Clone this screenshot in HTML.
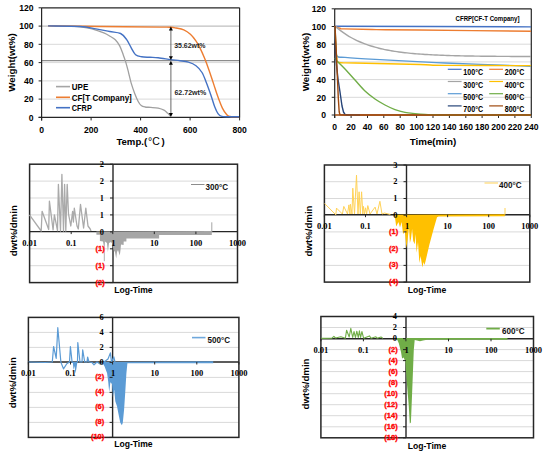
<!DOCTYPE html><html><head><meta charset="utf-8"><style>html,body{margin:0;padding:0;background:#fff;width:550px;height:454px;overflow:hidden}svg{display:block}</style></head><body>
<svg width="550" height="454" viewBox="0 0 550 454">
<rect width="550" height="454" fill="#fff"/>
<line x1="41.6" y1="99.1" x2="239.6" y2="99.1" stroke="#d9d9d9" stroke-width="1"/>
<line x1="41.6" y1="80.9" x2="239.6" y2="80.9" stroke="#d9d9d9" stroke-width="1"/>
<line x1="41.6" y1="62.6" x2="239.6" y2="62.6" stroke="#d9d9d9" stroke-width="1"/>
<line x1="41.6" y1="44.3" x2="239.6" y2="44.3" stroke="#d9d9d9" stroke-width="1"/>
<line x1="41.6" y1="26.1" x2="239.6" y2="26.1" stroke="#bfbfbf" stroke-width="1.2"/>
<line x1="41.6" y1="60.7" x2="239.6" y2="60.7" stroke="#8c8c8c" stroke-width="1.2"/>
<line x1="41.6" y1="7.8" x2="239.6" y2="7.8" stroke="#262626" stroke-width="1.2"/>
<line x1="239.6" y1="7.8" x2="239.6" y2="117.4" stroke="#262626" stroke-width="1.2"/>
<line x1="41.6" y1="7.8" x2="41.6" y2="120.4" stroke="#262626" stroke-width="1.2"/>
<line x1="38.6" y1="117.4" x2="239.6" y2="117.4" stroke="#262626" stroke-width="1.2"/>
<line x1="38.6" y1="117.4" x2="41.6" y2="117.4" stroke="#262626" stroke-width="1"/>
<text x="33.6" y="117.7" font-size="8.6" text-anchor="end" font-weight="bold" fill="#000" font-family='"Liberation Sans", sans-serif' dominant-baseline="central" >0</text>
<line x1="38.6" y1="99.1" x2="41.6" y2="99.1" stroke="#262626" stroke-width="1"/>
<text x="33.6" y="99.4" font-size="8.6" text-anchor="end" font-weight="bold" fill="#000" font-family='"Liberation Sans", sans-serif' dominant-baseline="central" >20</text>
<line x1="38.6" y1="80.9" x2="41.6" y2="80.9" stroke="#262626" stroke-width="1"/>
<text x="33.6" y="81.2" font-size="8.6" text-anchor="end" font-weight="bold" fill="#000" font-family='"Liberation Sans", sans-serif' dominant-baseline="central" >40</text>
<line x1="38.6" y1="62.6" x2="41.6" y2="62.6" stroke="#262626" stroke-width="1"/>
<text x="33.6" y="62.9" font-size="8.6" text-anchor="end" font-weight="bold" fill="#000" font-family='"Liberation Sans", sans-serif' dominant-baseline="central" >60</text>
<line x1="38.6" y1="44.3" x2="41.6" y2="44.3" stroke="#262626" stroke-width="1"/>
<text x="33.6" y="44.6" font-size="8.6" text-anchor="end" font-weight="bold" fill="#000" font-family='"Liberation Sans", sans-serif' dominant-baseline="central" >80</text>
<line x1="38.6" y1="26.1" x2="41.6" y2="26.1" stroke="#262626" stroke-width="1"/>
<text x="33.6" y="26.4" font-size="8.6" text-anchor="end" font-weight="bold" fill="#000" font-family='"Liberation Sans", sans-serif' dominant-baseline="central" >100</text>
<line x1="38.6" y1="7.8" x2="41.6" y2="7.8" stroke="#262626" stroke-width="1"/>
<text x="33.6" y="8.1" font-size="8.6" text-anchor="end" font-weight="bold" fill="#000" font-family='"Liberation Sans", sans-serif' dominant-baseline="central" >120</text>
<line x1="41.6" y1="117.4" x2="41.6" y2="120.4" stroke="#262626" stroke-width="1"/>
<text x="41.6" y="130.0" font-size="8.6" text-anchor="middle" font-weight="bold" fill="#000" font-family='"Liberation Sans", sans-serif' dominant-baseline="central" >0</text>
<line x1="91.1" y1="117.4" x2="91.1" y2="120.4" stroke="#262626" stroke-width="1"/>
<text x="91.1" y="130.0" font-size="8.6" text-anchor="middle" font-weight="bold" fill="#000" font-family='"Liberation Sans", sans-serif' dominant-baseline="central" >200</text>
<line x1="140.6" y1="117.4" x2="140.6" y2="120.4" stroke="#262626" stroke-width="1"/>
<text x="140.6" y="130.0" font-size="8.6" text-anchor="middle" font-weight="bold" fill="#000" font-family='"Liberation Sans", sans-serif' dominant-baseline="central" >400</text>
<line x1="190.1" y1="117.4" x2="190.1" y2="120.4" stroke="#262626" stroke-width="1"/>
<text x="190.1" y="130.0" font-size="8.6" text-anchor="middle" font-weight="bold" fill="#000" font-family='"Liberation Sans", sans-serif' dominant-baseline="central" >600</text>
<line x1="239.6" y1="117.4" x2="239.6" y2="120.4" stroke="#262626" stroke-width="1"/>
<text x="239.6" y="130.0" font-size="8.6" text-anchor="middle" font-weight="bold" fill="#000" font-family='"Liberation Sans", sans-serif' dominant-baseline="central" >800</text>
<text x="140.5" y="141.3" font-size="9.6" text-anchor="middle" font-weight="bold" fill="#000" font-family='"Liberation Sans", sans-serif' dominant-baseline="central" >Temp.(<tspan font-size="10.5" font-weight="normal" dx="1">°C</tspan><tspan dx="1.5">)</tspan></text>
<text x="11.4" y="62.5" font-size="9.8" text-anchor="middle" font-weight="bold" fill="#000" font-family='"Liberation Sans", sans-serif' dominant-baseline="central" transform="rotate(-90 11.4 62.5)">Weight(wt%)</text>
<path d="M48.10,25.90 C52.08,25.98 66.68,26.23 72.00,26.40 C77.32,26.57 76.68,26.48 80.00,26.90 C83.32,27.32 87.93,27.90 91.90,28.90 C95.87,29.90 100.78,31.68 103.80,32.90 C106.82,34.12 108.08,35.07 110.00,36.20 C111.92,37.33 113.68,38.08 115.30,39.70 C116.92,41.32 118.38,43.40 119.70,45.90 C121.02,48.40 122.17,51.92 123.20,54.70 C124.23,57.48 125.02,59.67 125.90,62.60 C126.78,65.53 127.63,68.92 128.50,72.30 C129.37,75.68 130.07,79.38 131.10,82.90 C132.13,86.42 133.52,90.30 134.70,93.40 C135.88,96.50 137.12,99.47 138.20,101.50 C139.28,103.53 140.07,104.68 141.20,105.60 C142.33,106.52 143.38,106.70 145.00,107.00 C146.62,107.30 148.70,107.20 150.90,107.40 C153.10,107.60 156.02,107.73 158.20,108.20 C160.38,108.67 162.43,109.38 164.00,110.20 C165.57,111.02 166.52,112.13 167.60,113.10 C168.68,114.07 170.02,115.52 170.50,116.00" fill="none" stroke="#a0a0a0" stroke-width="1.3" stroke-linejoin="round"/>
<path d="M48.10,25.90 C56.75,26.00 81.35,26.30 100.00,26.50 C118.65,26.70 148.17,26.97 160.00,27.10 C171.83,27.23 168.33,27.15 171.00,27.30 C173.67,27.45 173.87,27.57 176.00,28.00 C178.13,28.43 181.40,28.85 183.80,29.90 C186.20,30.95 188.38,32.47 190.40,34.30 C192.42,36.13 194.25,38.52 195.90,40.90 C197.55,43.28 198.83,45.65 200.30,48.60 C201.77,51.55 203.22,54.92 204.70,58.60 C206.18,62.28 207.72,66.48 209.20,70.70 C210.68,74.92 212.13,79.50 213.60,83.90 C215.07,88.30 216.53,93.07 218.00,97.10 C219.47,101.13 220.93,105.15 222.40,108.10 C223.87,111.05 225.52,113.40 226.80,114.80 C228.08,116.20 228.73,116.18 230.10,116.50 C231.47,116.82 233.52,116.67 235.00,116.70 C236.48,116.73 238.33,116.70 239.00,116.70" fill="none" stroke="#ed7d31" stroke-width="1.4" stroke-linejoin="round"/>
<path d="M48.10,25.90 C53.42,26.00 72.03,26.00 80.00,26.50 C87.97,27.00 90.95,28.07 95.90,28.90 C100.85,29.73 105.58,30.73 109.70,31.50 C113.82,32.27 117.77,32.13 120.60,33.50 C123.43,34.87 124.95,37.35 126.70,39.70 C128.45,42.05 129.62,45.10 131.10,47.60 C132.58,50.10 133.83,53.17 135.60,54.70 C137.37,56.23 139.30,56.37 141.70,56.80 C144.10,57.23 147.25,57.13 150.00,57.30 C152.75,57.47 154.72,57.42 158.20,57.80 C161.68,58.18 167.27,59.12 170.90,59.60 C174.53,60.08 177.07,60.27 180.00,60.70 C182.93,61.13 185.83,61.35 188.50,62.20 C191.17,63.05 193.75,64.08 196.00,65.80 C198.25,67.52 200.25,69.63 202.00,72.50 C203.75,75.37 205.00,79.17 206.50,83.00 C208.00,86.83 209.65,91.58 211.00,95.50 C212.35,99.42 213.43,103.48 214.60,106.50 C215.77,109.52 216.80,111.95 218.00,113.60 C219.20,115.25 219.80,115.88 221.80,116.40 C223.80,116.92 227.13,116.65 230.00,116.70 C232.87,116.75 237.50,116.70 239.00,116.70" fill="none" stroke="#4472c4" stroke-width="1.4" stroke-linejoin="round"/>
<line x1="170.9" y1="29.0" x2="170.9" y2="58.0" stroke="#404040" stroke-width="0.8"/>
<line x1="170.9" y1="63.0" x2="170.9" y2="114.5" stroke="#404040" stroke-width="0.8"/>
<polygon points="170.9,26.6 168.9,30.5 172.9,30.5" fill="#000"/>
<polygon points="170.9,60.1 168.9,56.2 172.9,56.2" fill="#000"/>
<polygon points="170.9,60.8 168.9,64.7 172.9,64.7" fill="#000"/>
<polygon points="170.9,117 168.9,113.1 172.9,113.1" fill="#000"/>
<text x="174.2" y="45.4" font-size="7.4" text-anchor="start" font-weight="bold" fill="#262626" font-family='"Liberation Sans", sans-serif' dominant-baseline="central" textLength="31.3" lengthAdjust="spacingAndGlyphs">35.62wt%</text>
<text x="174.4" y="92.8" font-size="7.4" text-anchor="start" font-weight="bold" fill="#262626" font-family='"Liberation Sans", sans-serif' dominant-baseline="central" textLength="31.8" lengthAdjust="spacingAndGlyphs">62.72wt%</text>
<line x1="56.0" y1="86.6" x2="70.0" y2="86.6" stroke="#a5a5a5" stroke-width="1.6"/>
<text x="71.8" y="86.9" font-size="8.8" text-anchor="start" font-weight="bold" fill="#000" font-family='"Liberation Sans", sans-serif' dominant-baseline="central" textLength="16.5" lengthAdjust="spacingAndGlyphs">UPE</text>
<line x1="56.0" y1="97.3" x2="70.0" y2="97.3" stroke="#ed7d31" stroke-width="1.6"/>
<text x="71.8" y="97.6" font-size="8.8" text-anchor="start" font-weight="bold" fill="#000" font-family='"Liberation Sans", sans-serif' dominant-baseline="central" textLength="60" lengthAdjust="spacingAndGlyphs">CF[T Company]</text>
<line x1="56.0" y1="107.7" x2="70.0" y2="107.7" stroke="#4472c4" stroke-width="1.6"/>
<text x="71.8" y="108.0" font-size="8.8" text-anchor="start" font-weight="bold" fill="#000" font-family='"Liberation Sans", sans-serif' dominant-baseline="central" textLength="20" lengthAdjust="spacingAndGlyphs">CFRP</text>
<line x1="334.7" y1="97.3" x2="531.3" y2="97.3" stroke="#d9d9d9" stroke-width="1"/>
<line x1="334.7" y1="79.6" x2="531.3" y2="79.6" stroke="#d9d9d9" stroke-width="1"/>
<line x1="334.7" y1="61.9" x2="531.3" y2="61.9" stroke="#d9d9d9" stroke-width="1"/>
<line x1="334.7" y1="44.2" x2="531.3" y2="44.2" stroke="#d9d9d9" stroke-width="1"/>
<line x1="334.7" y1="8.8" x2="531.3" y2="8.8" stroke="#262626" stroke-width="1.2"/>
<line x1="531.3" y1="8.8" x2="531.3" y2="115.0" stroke="#262626" stroke-width="1.2"/>
<line x1="334.7" y1="8.8" x2="334.7" y2="118.0" stroke="#262626" stroke-width="1.2"/>
<line x1="331.7" y1="115.0" x2="334.7" y2="115.0" stroke="#262626" stroke-width="1"/>
<text x="326.0" y="115.3" font-size="8.6" text-anchor="end" font-weight="bold" fill="#000" font-family='"Liberation Sans", sans-serif' dominant-baseline="central" >0</text>
<line x1="331.7" y1="97.3" x2="334.7" y2="97.3" stroke="#262626" stroke-width="1"/>
<text x="326.0" y="97.6" font-size="8.6" text-anchor="end" font-weight="bold" fill="#000" font-family='"Liberation Sans", sans-serif' dominant-baseline="central" >20</text>
<line x1="331.7" y1="79.6" x2="334.7" y2="79.6" stroke="#262626" stroke-width="1"/>
<text x="326.0" y="79.9" font-size="8.6" text-anchor="end" font-weight="bold" fill="#000" font-family='"Liberation Sans", sans-serif' dominant-baseline="central" >40</text>
<line x1="331.7" y1="61.9" x2="334.7" y2="61.9" stroke="#262626" stroke-width="1"/>
<text x="326.0" y="62.2" font-size="8.6" text-anchor="end" font-weight="bold" fill="#000" font-family='"Liberation Sans", sans-serif' dominant-baseline="central" >60</text>
<line x1="331.7" y1="44.2" x2="334.7" y2="44.2" stroke="#262626" stroke-width="1"/>
<text x="326.0" y="44.5" font-size="8.6" text-anchor="end" font-weight="bold" fill="#000" font-family='"Liberation Sans", sans-serif' dominant-baseline="central" >80</text>
<line x1="331.7" y1="26.5" x2="334.7" y2="26.5" stroke="#262626" stroke-width="1"/>
<text x="326.0" y="26.8" font-size="8.6" text-anchor="end" font-weight="bold" fill="#000" font-family='"Liberation Sans", sans-serif' dominant-baseline="central" >100</text>
<line x1="331.7" y1="8.8" x2="334.7" y2="8.8" stroke="#262626" stroke-width="1"/>
<text x="326.0" y="9.1" font-size="8.6" text-anchor="end" font-weight="bold" fill="#000" font-family='"Liberation Sans", sans-serif' dominant-baseline="central" >120</text>
<line x1="334.7" y1="115.0" x2="334.7" y2="118.0" stroke="#262626" stroke-width="1"/>
<text x="334.7" y="127.1" font-size="8.6" text-anchor="middle" font-weight="bold" fill="#000" font-family='"Liberation Sans", sans-serif' dominant-baseline="central" >0</text>
<line x1="351.1" y1="115.0" x2="351.1" y2="118.0" stroke="#262626" stroke-width="1"/>
<text x="351.1" y="127.1" font-size="8.6" text-anchor="middle" font-weight="bold" fill="#000" font-family='"Liberation Sans", sans-serif' dominant-baseline="central" >20</text>
<line x1="367.5" y1="115.0" x2="367.5" y2="118.0" stroke="#262626" stroke-width="1"/>
<text x="367.5" y="127.1" font-size="8.6" text-anchor="middle" font-weight="bold" fill="#000" font-family='"Liberation Sans", sans-serif' dominant-baseline="central" >40</text>
<line x1="383.8" y1="115.0" x2="383.8" y2="118.0" stroke="#262626" stroke-width="1"/>
<text x="383.8" y="127.1" font-size="8.6" text-anchor="middle" font-weight="bold" fill="#000" font-family='"Liberation Sans", sans-serif' dominant-baseline="central" >60</text>
<line x1="400.2" y1="115.0" x2="400.2" y2="118.0" stroke="#262626" stroke-width="1"/>
<text x="400.2" y="127.1" font-size="8.6" text-anchor="middle" font-weight="bold" fill="#000" font-family='"Liberation Sans", sans-serif' dominant-baseline="central" >80</text>
<line x1="416.6" y1="115.0" x2="416.6" y2="118.0" stroke="#262626" stroke-width="1"/>
<text x="416.6" y="127.1" font-size="8.6" text-anchor="middle" font-weight="bold" fill="#000" font-family='"Liberation Sans", sans-serif' dominant-baseline="central" >100</text>
<line x1="433.0" y1="115.0" x2="433.0" y2="118.0" stroke="#262626" stroke-width="1"/>
<text x="433.0" y="127.1" font-size="8.6" text-anchor="middle" font-weight="bold" fill="#000" font-family='"Liberation Sans", sans-serif' dominant-baseline="central" >120</text>
<line x1="449.4" y1="115.0" x2="449.4" y2="118.0" stroke="#262626" stroke-width="1"/>
<text x="449.4" y="127.1" font-size="8.6" text-anchor="middle" font-weight="bold" fill="#000" font-family='"Liberation Sans", sans-serif' dominant-baseline="central" >140</text>
<line x1="465.8" y1="115.0" x2="465.8" y2="118.0" stroke="#262626" stroke-width="1"/>
<text x="465.8" y="127.1" font-size="8.6" text-anchor="middle" font-weight="bold" fill="#000" font-family='"Liberation Sans", sans-serif' dominant-baseline="central" >160</text>
<line x1="482.1" y1="115.0" x2="482.1" y2="118.0" stroke="#262626" stroke-width="1"/>
<text x="482.1" y="127.1" font-size="8.6" text-anchor="middle" font-weight="bold" fill="#000" font-family='"Liberation Sans", sans-serif' dominant-baseline="central" >180</text>
<line x1="498.5" y1="115.0" x2="498.5" y2="118.0" stroke="#262626" stroke-width="1"/>
<text x="498.5" y="127.1" font-size="8.6" text-anchor="middle" font-weight="bold" fill="#000" font-family='"Liberation Sans", sans-serif' dominant-baseline="central" >200</text>
<line x1="514.9" y1="115.0" x2="514.9" y2="118.0" stroke="#262626" stroke-width="1"/>
<text x="514.9" y="127.1" font-size="8.6" text-anchor="middle" font-weight="bold" fill="#000" font-family='"Liberation Sans", sans-serif' dominant-baseline="central" >220</text>
<line x1="531.3" y1="115.0" x2="531.3" y2="118.0" stroke="#262626" stroke-width="1"/>
<text x="531.3" y="127.1" font-size="8.6" text-anchor="middle" font-weight="bold" fill="#000" font-family='"Liberation Sans", sans-serif' dominant-baseline="central" >240</text>
<text x="433.0" y="141.0" font-size="9.8" text-anchor="middle" font-weight="bold" fill="#000" font-family='"Liberation Sans", sans-serif' dominant-baseline="central" >Time(min)</text>
<text x="305.7" y="62.0" font-size="9.8" text-anchor="middle" font-weight="bold" fill="#000" font-family='"Liberation Sans", sans-serif' dominant-baseline="central" transform="rotate(-90 305.7 62)">Weight(wt%)</text>
<text x="487.5" y="18.8" font-size="6.6" text-anchor="middle" font-weight="bold" fill="#000" font-family='"Liberation Sans", sans-serif' dominant-baseline="central" textLength="64" lengthAdjust="spacingAndGlyphs">CFRP[CF-T Company]</text>
<line x1="335.0" y1="115.0" x2="531.0" y2="115.0" stroke="#9e480e" stroke-width="1.5"/>
<path d="M335.00,26.20 C367.67,26.32 498.33,26.78 531.00,26.90" fill="none" stroke="#4472c4" stroke-width="1.4" stroke-linejoin="round"/>
<path d="M335.00,26.00 C335.33,26.22 336.17,26.92 337.00,27.30 C337.83,27.68 338.85,28.03 340.00,28.30 C341.15,28.57 337.85,28.68 343.90,28.90 C349.95,29.12 363.62,29.42 376.30,29.60 C388.98,29.78 394.22,29.72 420.00,30.00 C445.78,30.28 512.50,31.08 531.00,31.30" fill="none" stroke="#ed7d31" stroke-width="1.4" stroke-linejoin="round"/>
<path d="M335.00,26.00 C335.67,26.57 337.67,28.33 339.00,29.40 C340.33,30.47 341.67,31.47 343.00,32.42 C344.33,33.37 345.67,34.25 347.00,35.10 C348.33,35.94 349.67,36.73 351.00,37.49 C352.33,38.24 353.67,38.94 355.00,39.61 C356.33,40.28 357.67,40.90 359.00,41.49 C360.33,42.09 361.67,42.64 363.00,43.17 C364.33,43.70 365.67,44.19 367.00,44.66 C368.33,45.13 369.67,45.57 371.00,45.99 C372.33,46.40 373.67,46.79 375.00,47.16 C376.33,47.53 377.67,47.88 379.00,48.21 C380.33,48.54 381.67,48.85 383.00,49.14 C384.33,49.44 385.67,49.71 387.00,49.97 C388.33,50.23 389.67,50.47 391.00,50.71 C392.33,50.94 393.67,51.15 395.00,51.36 C396.33,51.57 397.67,51.76 399.00,51.94 C400.33,52.12 401.67,52.30 403.00,52.46 C404.33,52.62 405.67,52.77 407.00,52.92 C408.33,53.06 409.67,53.20 411.00,53.33 C412.33,53.46 413.67,53.58 415.00,53.69 C416.33,53.80 417.67,53.91 419.00,54.01 C420.33,54.11 421.67,54.21 423.00,54.30 C424.33,54.39 425.67,54.48 427.00,54.56 C428.33,54.64 429.67,54.71 431.00,54.78 C432.33,54.85 433.67,54.92 435.00,54.98 C436.33,55.05 437.67,55.11 439.00,55.16 C440.33,55.22 441.67,55.27 443.00,55.32 C444.33,55.37 445.67,55.42 447.00,55.46 C448.33,55.51 449.67,55.55 451.00,55.59 C452.33,55.63 453.67,55.67 455.00,55.70 C456.33,55.74 457.67,55.77 459.00,55.80 C460.33,55.83 461.67,55.86 463.00,55.89 C464.33,55.92 465.67,55.94 467.00,55.97 C468.33,55.99 469.67,56.02 471.00,56.04 C472.33,56.06 473.67,56.08 475.00,56.10 C476.33,56.12 477.67,56.14 479.00,56.16 C480.33,56.17 481.67,56.19 483.00,56.21 C484.33,56.22 485.67,56.24 487.00,56.25 C488.33,56.26 489.67,56.28 491.00,56.29 C492.33,56.30 493.67,56.31 495.00,56.32 C496.33,56.33 497.67,56.34 499.00,56.35 C500.33,56.36 501.67,56.37 503.00,56.38 C504.33,56.39 505.67,56.40 507.00,56.41 C508.33,56.41 509.67,56.42 511.00,56.43 C512.33,56.43 513.67,56.44 515.00,56.45 C516.33,56.45 517.67,56.46 519.00,56.46 C520.33,56.47 521.67,56.47 523.00,56.48 C524.33,56.48 525.67,56.49 527.00,56.49 C528.33,56.50 530.33,56.50 531.00,56.50" fill="none" stroke="#a5a5a5" stroke-width="1.4" stroke-linejoin="round"/>
<path d="M335.00,26.00 C335.13,29.17 335.47,40.00 335.80,45.00 C336.13,50.00 335.47,53.93 337.00,56.00 C338.53,58.07 338.67,56.83 345.00,57.40 C351.33,57.97 358.33,58.47 375.00,59.40 C391.67,60.33 419.00,61.87 445.00,63.00 C471.00,64.13 516.67,65.67 531.00,66.20" fill="none" stroke="#5b9bd5" stroke-width="1.4" stroke-linejoin="round"/>
<path d="M335.00,26.00 C335.13,29.17 335.50,39.67 335.80,45.00 C336.10,50.33 336.33,55.10 336.80,58.00 C337.27,60.90 335.57,61.57 338.60,62.40 C341.63,63.23 341.43,62.65 355.00,63.00 C368.57,63.35 405.00,64.10 420.00,64.50 C435.00,64.90 426.50,65.22 445.00,65.40 C463.50,65.58 516.67,65.57 531.00,65.60" fill="none" stroke="#ffc000" stroke-width="1.4" stroke-linejoin="round"/>
<path d="M335.00,58.00 C335.33,58.50 335.33,59.17 337.00,61.00 C338.67,62.83 342.00,65.83 345.00,69.00 C348.00,72.17 351.67,76.33 355.00,80.00 C358.33,83.67 361.67,87.83 365.00,91.00 C368.33,94.17 371.67,96.67 375.00,99.00 C378.33,101.33 381.67,103.23 385.00,105.00 C388.33,106.77 391.67,108.37 395.00,109.60 C398.33,110.83 401.67,111.73 405.00,112.40 C408.33,113.07 411.67,113.27 415.00,113.60 C418.33,113.93 421.67,114.22 425.00,114.40 C428.33,114.58 430.83,114.60 435.00,114.70 C439.17,114.80 434.00,114.95 450.00,115.00 C466.00,115.05 517.50,115.00 531.00,115.00" fill="none" stroke="#70ad47" stroke-width="1.4" stroke-linejoin="round"/>
<polyline points="335.0,26.0 335.5,50.0 336.5,65.0 338.0,79.0 340.0,92.0 342.0,106.0 343.5,112.0 345.0,114.3 347.0,115.0 360.0,115.0" fill="none" stroke="#264478" stroke-width="1.4" stroke-linejoin="round" />
<polyline points="335.0,26.0 336.2,50.0 337.3,75.0 338.3,98.0 339.2,112.0 340.0,114.8 345.0,115.0 531.0,115.0" fill="none" stroke="#9e480e" stroke-width="1.4" stroke-linejoin="round" />
<line x1="447.8" y1="69.3" x2="461.6" y2="69.3" stroke="#4472c4" stroke-width="1.2"/>
<text x="463.3" y="72.3" font-size="8.4" text-anchor="start" font-weight="bold" fill="#000" font-family='"Liberation Sans", sans-serif' dominant-baseline="central" textLength="19.8" lengthAdjust="spacingAndGlyphs">100°C</text>
<line x1="489.2" y1="69.3" x2="503.0" y2="69.3" stroke="#ed7d31" stroke-width="1.2"/>
<text x="504.7" y="72.3" font-size="8.4" text-anchor="start" font-weight="bold" fill="#000" font-family='"Liberation Sans", sans-serif' dominant-baseline="central" textLength="19.8" lengthAdjust="spacingAndGlyphs">200°C</text>
<line x1="447.8" y1="81.5" x2="461.6" y2="81.5" stroke="#a5a5a5" stroke-width="1.2"/>
<text x="463.3" y="84.5" font-size="8.4" text-anchor="start" font-weight="bold" fill="#000" font-family='"Liberation Sans", sans-serif' dominant-baseline="central" textLength="19.8" lengthAdjust="spacingAndGlyphs">300°C</text>
<line x1="489.2" y1="81.5" x2="503.0" y2="81.5" stroke="#ffc000" stroke-width="1.2"/>
<text x="504.7" y="84.5" font-size="8.4" text-anchor="start" font-weight="bold" fill="#000" font-family='"Liberation Sans", sans-serif' dominant-baseline="central" textLength="19.8" lengthAdjust="spacingAndGlyphs">400°C</text>
<line x1="447.8" y1="93.7" x2="461.6" y2="93.7" stroke="#5b9bd5" stroke-width="1.2"/>
<text x="463.3" y="96.7" font-size="8.4" text-anchor="start" font-weight="bold" fill="#000" font-family='"Liberation Sans", sans-serif' dominant-baseline="central" textLength="19.8" lengthAdjust="spacingAndGlyphs">500°C</text>
<line x1="489.2" y1="93.7" x2="503.0" y2="93.7" stroke="#70ad47" stroke-width="1.2"/>
<text x="504.7" y="96.7" font-size="8.4" text-anchor="start" font-weight="bold" fill="#000" font-family='"Liberation Sans", sans-serif' dominant-baseline="central" textLength="19.8" lengthAdjust="spacingAndGlyphs">600°C</text>
<line x1="447.8" y1="105.9" x2="461.6" y2="105.9" stroke="#264478" stroke-width="1.2"/>
<text x="463.3" y="108.9" font-size="8.4" text-anchor="start" font-weight="bold" fill="#000" font-family='"Liberation Sans", sans-serif' dominant-baseline="central" textLength="19.8" lengthAdjust="spacingAndGlyphs">700°C</text>
<line x1="489.2" y1="105.9" x2="503.0" y2="105.9" stroke="#9e480e" stroke-width="1.2"/>
<text x="504.7" y="108.9" font-size="8.4" text-anchor="start" font-weight="bold" fill="#000" font-family='"Liberation Sans", sans-serif' dominant-baseline="central" textLength="19.8" lengthAdjust="spacingAndGlyphs">800°C</text>
<line x1="29.6" y1="181.1" x2="237.5" y2="181.1" stroke="#d9d9d9" stroke-width="1"/>
<line x1="29.6" y1="198.0" x2="237.5" y2="198.0" stroke="#d9d9d9" stroke-width="1"/>
<line x1="29.6" y1="214.9" x2="237.5" y2="214.9" stroke="#d9d9d9" stroke-width="1"/>
<line x1="29.6" y1="248.8" x2="237.5" y2="248.8" stroke="#d9d9d9" stroke-width="1"/>
<line x1="29.6" y1="265.7" x2="237.5" y2="265.7" stroke="#d9d9d9" stroke-width="1"/>
<rect x="29.60" y="164.20" width="207.90" height="118.40" fill="none" stroke="#262626" stroke-width="1.5"/>
<line x1="29.6" y1="231.6" x2="237.5" y2="231.6" stroke="#262626" stroke-width="1.4"/>
<line x1="113.0" y1="164.2" x2="113.0" y2="282.6" stroke="#262626" stroke-width="1.4"/>
<polyline points="29.5,214.8 41.2,231.0 42.1,211.3 48.7,229.5 49.4,201.2 53.1,229.8 54.4,214.8 57.5,230.7 58.4,184.3 60.5,231.0 61.9,174.3 63.5,231.0 64.6,184.3 65.8,231.0 67.2,184.3 68.5,214.0 70.8,226.0 72.6,211.3 73.4,222.0 74.3,208.2 77.0,226.0 78.3,229.0 80.5,204.3 83.6,228.0 85.8,208.2 88.0,226.0 90.2,229.0 91.0,231.0" fill="none" stroke="#aaaaaa" stroke-width="1.3" stroke-linejoin="round" />
<polygon points="96.4,231.5 96.4,234.8 99.9,234.8 99.9,241.0 103.0,241.5 104.0,246.0 105.0,241.5 107.0,243.0 107.9,252.0 109.0,243.0 111.0,242.0 112.5,244.0 113.5,250.0 115.0,252.0 116.2,258.6 117.0,252.0 118.0,250.0 119.8,255.5 120.5,250.0 121.0,244.5 123.6,245.0 123.7,241.4 126.4,241.4 126.4,238.6 159.1,238.6 159.1,235.0 211.8,235.0 211.8,231.0" fill="#a6a6a6" stroke="none" stroke-width="0" stroke-linejoin="round" />
<line x1="104.3" y1="240.0" x2="104.3" y2="261.2" stroke="#b0b0b0" stroke-width="1"/>
<line x1="211.8" y1="232.0" x2="211.8" y2="222.3" stroke="#a6a6a6" stroke-width="1"/>
<line x1="110.0" y1="164.2" x2="113.0" y2="164.2" stroke="#262626" stroke-width="1"/>
<text x="104.0" y="164.3" font-size="8.4" text-anchor="end" font-weight="bold" fill="#000" font-family='"Liberation Serif", serif' dominant-baseline="central" >2</text>
<line x1="110.0" y1="181.1" x2="113.0" y2="181.1" stroke="#262626" stroke-width="1"/>
<text x="104.0" y="181.2" font-size="8.4" text-anchor="end" font-weight="bold" fill="#000" font-family='"Liberation Serif", serif' dominant-baseline="central" >2</text>
<line x1="110.0" y1="198.0" x2="113.0" y2="198.0" stroke="#262626" stroke-width="1"/>
<text x="104.0" y="198.1" font-size="8.4" text-anchor="end" font-weight="bold" fill="#000" font-family='"Liberation Serif", serif' dominant-baseline="central" >1</text>
<line x1="110.0" y1="214.9" x2="113.0" y2="214.9" stroke="#262626" stroke-width="1"/>
<text x="104.0" y="215.0" font-size="8.4" text-anchor="end" font-weight="bold" fill="#000" font-family='"Liberation Serif", serif' dominant-baseline="central" >1</text>
<line x1="110.0" y1="231.9" x2="113.0" y2="231.9" stroke="#262626" stroke-width="1"/>
<text x="104.0" y="232.0" font-size="8.4" text-anchor="end" font-weight="bold" fill="#000" font-family='"Liberation Serif", serif' dominant-baseline="central" >0</text>
<line x1="110.0" y1="248.8" x2="113.0" y2="248.8" stroke="#262626" stroke-width="1"/>
<text x="104.7" y="248.2" font-size="7.5" text-anchor="end" font-weight="bold" fill="#ff0000" font-family='"Liberation Sans", sans-serif' dominant-baseline="central" stroke="#ff0000" stroke-width="0.3">(1)</text>
<line x1="110.0" y1="265.7" x2="113.0" y2="265.7" stroke="#262626" stroke-width="1"/>
<text x="104.7" y="265.1" font-size="7.5" text-anchor="end" font-weight="bold" fill="#ff0000" font-family='"Liberation Sans", sans-serif' dominant-baseline="central" stroke="#ff0000" stroke-width="0.3">(1)</text>
<line x1="110.0" y1="282.6" x2="113.0" y2="282.6" stroke="#262626" stroke-width="1"/>
<text x="104.7" y="282.0" font-size="7.5" text-anchor="end" font-weight="bold" fill="#ff0000" font-family='"Liberation Sans", sans-serif' dominant-baseline="central" stroke="#ff0000" stroke-width="0.3">(2)</text>
<line x1="29.6" y1="231.6" x2="29.6" y2="234.1" stroke="#262626" stroke-width="1"/>
<text x="29.6" y="242.7" font-size="8.5" text-anchor="middle" font-weight="bold" fill="#000" font-family='"Liberation Serif", serif' dominant-baseline="central" >0.01</text>
<line x1="71.2" y1="231.6" x2="71.2" y2="234.1" stroke="#262626" stroke-width="1"/>
<text x="71.2" y="242.7" font-size="8.5" text-anchor="middle" font-weight="bold" fill="#000" font-family='"Liberation Serif", serif' dominant-baseline="central" >0.1</text>
<line x1="112.8" y1="231.6" x2="112.8" y2="234.1" stroke="#262626" stroke-width="1"/>
<text x="113.4" y="242.7" font-size="8.5" text-anchor="middle" font-weight="bold" fill="#000" font-family='"Liberation Serif", serif' dominant-baseline="central" >1</text>
<line x1="154.3" y1="231.6" x2="154.3" y2="234.1" stroke="#262626" stroke-width="1"/>
<text x="154.3" y="242.7" font-size="8.5" text-anchor="middle" font-weight="bold" fill="#000" font-family='"Liberation Serif", serif' dominant-baseline="central" >10</text>
<line x1="195.9" y1="231.6" x2="195.9" y2="234.1" stroke="#262626" stroke-width="1"/>
<text x="195.9" y="242.7" font-size="8.5" text-anchor="middle" font-weight="bold" fill="#000" font-family='"Liberation Serif", serif' dominant-baseline="central" >100</text>
<line x1="237.5" y1="231.6" x2="237.5" y2="234.1" stroke="#262626" stroke-width="1"/>
<text x="237.5" y="242.7" font-size="8.5" text-anchor="middle" font-weight="bold" fill="#000" font-family='"Liberation Serif", serif' dominant-baseline="central" >1000</text>
<line x1="191.0" y1="184.5" x2="204.5" y2="184.5" stroke="#8c8c8c" stroke-width="1.0"/>
<text x="205.6" y="187.0" font-size="8.2" text-anchor="start" font-weight="600" fill="#111" font-family='"Liberation Sans", sans-serif' dominant-baseline="central" textLength="22.6" lengthAdjust="spacingAndGlyphs">300°C</text>
<text x="133.4" y="290.1" font-size="9.2" text-anchor="middle" font-weight="bold" fill="#000" font-family='"Liberation Sans", sans-serif' dominant-baseline="central" textLength="38.5" lengthAdjust="spacingAndGlyphs">Log-Time</text>
<text x="14.5" y="230.7" font-size="9.2" text-anchor="middle" font-weight="bold" fill="#000" font-family='"Liberation Sans", sans-serif' dominant-baseline="central" textLength="51" lengthAdjust="spacingAndGlyphs" transform="rotate(-90 14.5 230.7)">dwt%/dmin</text>
<line x1="324.4" y1="181.7" x2="529.8" y2="181.7" stroke="#d9d9d9" stroke-width="1"/>
<line x1="324.4" y1="198.5" x2="529.8" y2="198.5" stroke="#d9d9d9" stroke-width="1"/>
<line x1="324.4" y1="231.9" x2="529.8" y2="231.9" stroke="#d9d9d9" stroke-width="1"/>
<line x1="324.4" y1="248.6" x2="529.8" y2="248.6" stroke="#d9d9d9" stroke-width="1"/>
<line x1="324.4" y1="265.4" x2="529.8" y2="265.4" stroke="#d9d9d9" stroke-width="1"/>
<rect x="324.40" y="165.00" width="205.40" height="117.10" fill="none" stroke="#262626" stroke-width="1.5"/>
<line x1="324.4" y1="214.7" x2="529.8" y2="214.7" stroke="#262626" stroke-width="1.4"/>
<line x1="406.5" y1="165.0" x2="406.5" y2="282.1" stroke="#262626" stroke-width="1.4"/>
<polyline points="324.6,203.5 335.8,214.8 336.5,208.1 342.4,214.0 343.8,206.4 347.5,214.0 348.9,204.9 350.0,214.0 350.4,204.2 352.0,214.0 352.8,188.2 354.5,214.0 356.5,175.1 358.0,214.0 359.1,191.8 360.3,214.0 361.6,191.8 362.8,214.0 363.5,206.4 364.5,214.0 365.6,207.8 366.6,214.0 367.8,205.6 370.0,214.0 375.1,207.1 377.0,214.0 379.9,201.3 382.0,214.0 384.5,213.0 390.4,214.5" fill="none" stroke="#ffd257" stroke-width="1.0" stroke-linejoin="round" />
<polygon points="394.6,214.7 396.2,226.6 398.5,222.0 400.0,227.4 401.6,222.0 403.1,234.3 404.7,230.5 406.5,248.2 407.7,238.9 409.0,227.0 409.9,243.0 411.0,238.5 412.1,229.0 413.2,241.0 414.7,244.3 415.5,234.0 416.6,252.8 418.0,242.0 419.4,263.0 420.6,256.0 422.4,267.5 423.5,262.0 424.5,265.0 425.6,261.0 429.3,245.1 433.2,230.5 437.0,217.3 438.6,216.4 504.9,216.2 504.9,214.2" fill="#ffc000" stroke="none" stroke-width="0" stroke-linejoin="round" />
<line x1="505.0" y1="214.7" x2="505.0" y2="208.0" stroke="#ffd257" stroke-width="1"/>
<line x1="403.5" y1="165.0" x2="406.5" y2="165.0" stroke="#262626" stroke-width="1"/>
<text x="397.5" y="165.1" font-size="8.4" text-anchor="end" font-weight="bold" fill="#000" font-family='"Liberation Serif", serif' dominant-baseline="central" >3</text>
<line x1="403.5" y1="181.7" x2="406.5" y2="181.7" stroke="#262626" stroke-width="1"/>
<text x="397.5" y="181.8" font-size="8.4" text-anchor="end" font-weight="bold" fill="#000" font-family='"Liberation Serif", serif' dominant-baseline="central" >2</text>
<line x1="403.5" y1="198.5" x2="406.5" y2="198.5" stroke="#262626" stroke-width="1"/>
<text x="397.5" y="198.6" font-size="8.4" text-anchor="end" font-weight="bold" fill="#000" font-family='"Liberation Serif", serif' dominant-baseline="central" >1</text>
<line x1="403.5" y1="215.2" x2="406.5" y2="215.2" stroke="#262626" stroke-width="1"/>
<text x="397.5" y="215.3" font-size="8.4" text-anchor="end" font-weight="bold" fill="#000" font-family='"Liberation Serif", serif' dominant-baseline="central" >0</text>
<line x1="403.5" y1="231.9" x2="406.5" y2="231.9" stroke="#262626" stroke-width="1"/>
<text x="398.2" y="231.3" font-size="7.5" text-anchor="end" font-weight="bold" fill="#ff0000" font-family='"Liberation Sans", sans-serif' dominant-baseline="central" stroke="#ff0000" stroke-width="0.3">(1)</text>
<line x1="403.5" y1="248.6" x2="406.5" y2="248.6" stroke="#262626" stroke-width="1"/>
<text x="398.2" y="248.0" font-size="7.5" text-anchor="end" font-weight="bold" fill="#ff0000" font-family='"Liberation Sans", sans-serif' dominant-baseline="central" stroke="#ff0000" stroke-width="0.3">(2)</text>
<line x1="403.5" y1="265.4" x2="406.5" y2="265.4" stroke="#262626" stroke-width="1"/>
<text x="398.2" y="264.8" font-size="7.5" text-anchor="end" font-weight="bold" fill="#ff0000" font-family='"Liberation Sans", sans-serif' dominant-baseline="central" stroke="#ff0000" stroke-width="0.3">(3)</text>
<line x1="403.5" y1="282.1" x2="406.5" y2="282.1" stroke="#262626" stroke-width="1"/>
<text x="398.2" y="281.5" font-size="7.5" text-anchor="end" font-weight="bold" fill="#ff0000" font-family='"Liberation Sans", sans-serif' dominant-baseline="central" stroke="#ff0000" stroke-width="0.3">(4)</text>
<line x1="324.4" y1="214.7" x2="324.4" y2="217.2" stroke="#262626" stroke-width="1"/>
<text x="324.4" y="226.0" font-size="8.5" text-anchor="middle" font-weight="bold" fill="#000" font-family='"Liberation Serif", serif' dominant-baseline="central" >0.01</text>
<line x1="365.5" y1="214.7" x2="365.5" y2="217.2" stroke="#262626" stroke-width="1"/>
<text x="365.5" y="226.0" font-size="8.5" text-anchor="middle" font-weight="bold" fill="#000" font-family='"Liberation Serif", serif' dominant-baseline="central" >0.1</text>
<line x1="406.6" y1="214.7" x2="406.6" y2="217.2" stroke="#262626" stroke-width="1"/>
<text x="407.2" y="226.0" font-size="8.5" text-anchor="middle" font-weight="bold" fill="#000" font-family='"Liberation Serif", serif' dominant-baseline="central" >1</text>
<line x1="447.6" y1="214.7" x2="447.6" y2="217.2" stroke="#262626" stroke-width="1"/>
<text x="447.6" y="226.0" font-size="8.5" text-anchor="middle" font-weight="bold" fill="#000" font-family='"Liberation Serif", serif' dominant-baseline="central" >10</text>
<line x1="488.7" y1="214.7" x2="488.7" y2="217.2" stroke="#262626" stroke-width="1"/>
<text x="488.7" y="226.0" font-size="8.5" text-anchor="middle" font-weight="bold" fill="#000" font-family='"Liberation Serif", serif' dominant-baseline="central" >100</text>
<line x1="529.8" y1="214.7" x2="529.8" y2="217.2" stroke="#262626" stroke-width="1"/>
<text x="529.8" y="226.0" font-size="8.5" text-anchor="middle" font-weight="bold" fill="#000" font-family='"Liberation Serif", serif' dominant-baseline="central" >1000</text>
<line x1="484.5" y1="183.0" x2="498.0" y2="183.0" stroke="#ffd257" stroke-width="1.0"/>
<text x="498.9" y="185.5" font-size="8.2" text-anchor="start" font-weight="600" fill="#111" font-family='"Liberation Sans", sans-serif' dominant-baseline="central" textLength="22.6" lengthAdjust="spacingAndGlyphs">400°C</text>
<text x="427.0" y="289.6" font-size="9.2" text-anchor="middle" font-weight="bold" fill="#000" font-family='"Liberation Sans", sans-serif' dominant-baseline="central" textLength="38.5" lengthAdjust="spacingAndGlyphs">Log-Time</text>
<text x="309.3" y="231.0" font-size="9.2" text-anchor="middle" font-weight="bold" fill="#000" font-family='"Liberation Sans", sans-serif' dominant-baseline="central" textLength="51" lengthAdjust="spacingAndGlyphs" transform="rotate(-90 309.3 231)">dwt%/dmin</text>
<line x1="28.4" y1="332.4" x2="238.9" y2="332.4" stroke="#d9d9d9" stroke-width="1"/>
<line x1="28.4" y1="347.4" x2="238.9" y2="347.4" stroke="#d9d9d9" stroke-width="1"/>
<line x1="28.4" y1="377.4" x2="238.9" y2="377.4" stroke="#d9d9d9" stroke-width="1"/>
<line x1="28.4" y1="392.4" x2="238.9" y2="392.4" stroke="#d9d9d9" stroke-width="1"/>
<line x1="28.4" y1="407.4" x2="238.9" y2="407.4" stroke="#d9d9d9" stroke-width="1"/>
<line x1="28.4" y1="422.4" x2="238.9" y2="422.4" stroke="#d9d9d9" stroke-width="1"/>
<rect x="28.40" y="317.40" width="210.50" height="120.00" fill="none" stroke="#262626" stroke-width="1.5"/>
<line x1="28.4" y1="362.0" x2="238.9" y2="362.0" stroke="#262626" stroke-width="1.4"/>
<line x1="112.6" y1="317.4" x2="112.6" y2="437.4" stroke="#262626" stroke-width="1.4"/>
<polyline points="28.4,362.0 45.0,362.5 52.3,362.0 53.6,346.5 56.2,358.4 57.8,327.7 60.9,362.3 63.5,368.9 66.8,363.7 69.5,362.0 70.4,346.5 72.1,362.3 77.5,362.0 77.8,342.5 80.0,362.0 82.0,362.0 82.7,349.8 84.7,362.0 87.0,362.0 87.6,357.0 89.0,362.0 92.0,362.5 94.0,364.8 97.0,362.0 100.0,364.0 104.0,362.0 108.0,359.0 110.4,352.9 111.5,362.0 113.8,356.9 115.0,362.0" fill="none" stroke="#5b9bd5" stroke-width="1.2" stroke-linejoin="round" />
<polygon points="72.8,362.0 73.5,370.0 74.5,366.0 75.5,373.6 76.5,368.0 77.4,362.0" fill="#5b9bd5" stroke="none" stroke-width="0" stroke-linejoin="round" />
<polygon points="102.1,362.0 104.6,366.6 107.1,373.2 108.2,381.4 109.2,392.1 110.4,382.2 112.0,383.9 112.9,397.1 114.2,389.7 115.3,401.2 117.0,406.2 118.6,414.4 120.3,422.7 121.9,425.2 122.8,422.7 124.1,409.5 125.2,393.0 126.4,373.2 127.4,363.3 213.2,363.2 213.2,361.2" fill="#5b9bd5" stroke="none" stroke-width="0" stroke-linejoin="round" />
<line x1="109.6" y1="317.4" x2="112.6" y2="317.4" stroke="#262626" stroke-width="1"/>
<text x="103.6" y="317.5" font-size="8.4" text-anchor="end" font-weight="bold" fill="#000" font-family='"Liberation Serif", serif' dominant-baseline="central" >6</text>
<line x1="109.6" y1="332.4" x2="112.6" y2="332.4" stroke="#262626" stroke-width="1"/>
<text x="103.6" y="332.5" font-size="8.4" text-anchor="end" font-weight="bold" fill="#000" font-family='"Liberation Serif", serif' dominant-baseline="central" >4</text>
<line x1="109.6" y1="347.4" x2="112.6" y2="347.4" stroke="#262626" stroke-width="1"/>
<text x="103.6" y="347.5" font-size="8.4" text-anchor="end" font-weight="bold" fill="#000" font-family='"Liberation Serif", serif' dominant-baseline="central" >2</text>
<line x1="109.6" y1="362.4" x2="112.6" y2="362.4" stroke="#262626" stroke-width="1"/>
<text x="103.6" y="362.5" font-size="8.4" text-anchor="end" font-weight="bold" fill="#000" font-family='"Liberation Serif", serif' dominant-baseline="central" >0</text>
<line x1="109.6" y1="377.4" x2="112.6" y2="377.4" stroke="#262626" stroke-width="1"/>
<text x="104.3" y="376.8" font-size="7.5" text-anchor="end" font-weight="bold" fill="#ff0000" font-family='"Liberation Sans", sans-serif' dominant-baseline="central" stroke="#ff0000" stroke-width="0.3">(2)</text>
<line x1="109.6" y1="392.4" x2="112.6" y2="392.4" stroke="#262626" stroke-width="1"/>
<text x="104.3" y="391.8" font-size="7.5" text-anchor="end" font-weight="bold" fill="#ff0000" font-family='"Liberation Sans", sans-serif' dominant-baseline="central" stroke="#ff0000" stroke-width="0.3">(4)</text>
<line x1="109.6" y1="407.4" x2="112.6" y2="407.4" stroke="#262626" stroke-width="1"/>
<text x="104.3" y="406.8" font-size="7.5" text-anchor="end" font-weight="bold" fill="#ff0000" font-family='"Liberation Sans", sans-serif' dominant-baseline="central" stroke="#ff0000" stroke-width="0.3">(6)</text>
<line x1="109.6" y1="422.4" x2="112.6" y2="422.4" stroke="#262626" stroke-width="1"/>
<text x="104.3" y="421.8" font-size="7.5" text-anchor="end" font-weight="bold" fill="#ff0000" font-family='"Liberation Sans", sans-serif' dominant-baseline="central" stroke="#ff0000" stroke-width="0.3">(8)</text>
<line x1="109.6" y1="437.4" x2="112.6" y2="437.4" stroke="#262626" stroke-width="1"/>
<text x="104.3" y="436.8" font-size="7.5" text-anchor="end" font-weight="bold" fill="#ff0000" font-family='"Liberation Sans", sans-serif' dominant-baseline="central" stroke="#ff0000" stroke-width="0.3">(10)</text>
<line x1="28.4" y1="362.0" x2="28.4" y2="364.5" stroke="#262626" stroke-width="1"/>
<text x="28.4" y="373.4" font-size="8.5" text-anchor="middle" font-weight="bold" fill="#000" font-family='"Liberation Serif", serif' dominant-baseline="central" >0.01</text>
<line x1="70.5" y1="362.0" x2="70.5" y2="364.5" stroke="#262626" stroke-width="1"/>
<text x="70.5" y="373.4" font-size="8.5" text-anchor="middle" font-weight="bold" fill="#000" font-family='"Liberation Serif", serif' dominant-baseline="central" >0.1</text>
<line x1="112.6" y1="362.0" x2="112.6" y2="364.5" stroke="#262626" stroke-width="1"/>
<text x="113.2" y="373.4" font-size="8.5" text-anchor="middle" font-weight="bold" fill="#000" font-family='"Liberation Serif", serif' dominant-baseline="central" >1</text>
<line x1="154.7" y1="362.0" x2="154.7" y2="364.5" stroke="#262626" stroke-width="1"/>
<text x="154.7" y="373.4" font-size="8.5" text-anchor="middle" font-weight="bold" fill="#000" font-family='"Liberation Serif", serif' dominant-baseline="central" >10</text>
<line x1="196.8" y1="362.0" x2="196.8" y2="364.5" stroke="#262626" stroke-width="1"/>
<text x="196.8" y="373.4" font-size="8.5" text-anchor="middle" font-weight="bold" fill="#000" font-family='"Liberation Serif", serif' dominant-baseline="central" >100</text>
<line x1="238.9" y1="362.0" x2="238.9" y2="364.5" stroke="#262626" stroke-width="1"/>
<text x="238.9" y="373.4" font-size="8.5" text-anchor="middle" font-weight="bold" fill="#000" font-family='"Liberation Serif", serif' dominant-baseline="central" >1000</text>
<line x1="192.0" y1="337.6" x2="205.5" y2="337.6" stroke="#6fa8dc" stroke-width="1.6"/>
<text x="207.6" y="340.1" font-size="8.2" text-anchor="start" font-weight="600" fill="#111" font-family='"Liberation Sans", sans-serif' dominant-baseline="central" textLength="22.6" lengthAdjust="spacingAndGlyphs">500°C</text>
<text x="133.4" y="444.3" font-size="9.2" text-anchor="middle" font-weight="bold" fill="#000" font-family='"Liberation Sans", sans-serif' dominant-baseline="central" textLength="38.5" lengthAdjust="spacingAndGlyphs">Log-Time</text>
<text x="13.3" y="382.7" font-size="9.2" text-anchor="middle" font-weight="bold" fill="#000" font-family='"Liberation Sans", sans-serif' dominant-baseline="central" textLength="51" lengthAdjust="spacingAndGlyphs" transform="rotate(-90 13.3 382.7)">dwt%/dmin</text>
<line x1="320.9" y1="327.5" x2="533.5" y2="327.5" stroke="#d9d9d9" stroke-width="1"/>
<line x1="320.9" y1="349.6" x2="533.5" y2="349.6" stroke="#d9d9d9" stroke-width="1"/>
<line x1="320.9" y1="360.6" x2="533.5" y2="360.6" stroke="#d9d9d9" stroke-width="1"/>
<line x1="320.9" y1="371.6" x2="533.5" y2="371.6" stroke="#d9d9d9" stroke-width="1"/>
<line x1="320.9" y1="382.7" x2="533.5" y2="382.7" stroke="#d9d9d9" stroke-width="1"/>
<line x1="320.9" y1="393.7" x2="533.5" y2="393.7" stroke="#d9d9d9" stroke-width="1"/>
<line x1="320.9" y1="404.7" x2="533.5" y2="404.7" stroke="#d9d9d9" stroke-width="1"/>
<line x1="320.9" y1="415.7" x2="533.5" y2="415.7" stroke="#d9d9d9" stroke-width="1"/>
<line x1="320.9" y1="426.8" x2="533.5" y2="426.8" stroke="#d9d9d9" stroke-width="1"/>
<rect x="320.90" y="316.50" width="212.60" height="121.30" fill="none" stroke="#262626" stroke-width="1.5"/>
<line x1="320.9" y1="338.8" x2="533.5" y2="338.8" stroke="#262626" stroke-width="1.4"/>
<line x1="406.0" y1="316.5" x2="406.0" y2="437.8" stroke="#262626" stroke-width="1.4"/>
<polyline points="321.2,338.4 332.0,338.2 333.9,336.3 335.5,338.0 340.9,336.8 345.4,338.2 346.6,330.2 349.2,337.0 350.8,328.3 352.7,337.5 354.0,331.5 355.5,337.5 356.8,331.2 358.3,337.5 359.4,330.8 360.6,337.5 361.9,331.5 363.6,338.2 369.5,335.9 371.0,338.2 375.9,336.8 377.0,338.2 381.0,337.0 383.0,338.4" fill="none" stroke="#70ad47" stroke-width="1.1" stroke-linejoin="round" />
<polygon points="396.6,338.2 398.8,343.2 401.0,352.0 402.1,358.6 403.7,357.5 405.4,362.0 406.5,378.5 408.7,404.9 409.8,423.6 410.9,422.5 412.0,396.0 413.8,349.8 414.7,339.9 417.0,340.6 420.0,341.2 423.0,340.4 427.0,339.7 507.5,339.7 507.5,337.9 396.6,337.9" fill="#70ad47" stroke="none" stroke-width="0" stroke-linejoin="round" />
<line x1="403.0" y1="316.5" x2="406.0" y2="316.5" stroke="#262626" stroke-width="1"/>
<text x="397.0" y="316.6" font-size="8.4" text-anchor="end" font-weight="bold" fill="#000" font-family='"Liberation Serif", serif' dominant-baseline="central" >4</text>
<line x1="403.0" y1="327.5" x2="406.0" y2="327.5" stroke="#262626" stroke-width="1"/>
<text x="397.0" y="327.6" font-size="8.4" text-anchor="end" font-weight="bold" fill="#000" font-family='"Liberation Serif", serif' dominant-baseline="central" >2</text>
<line x1="403.0" y1="338.6" x2="406.0" y2="338.6" stroke="#262626" stroke-width="1"/>
<text x="397.0" y="338.7" font-size="8.4" text-anchor="end" font-weight="bold" fill="#000" font-family='"Liberation Serif", serif' dominant-baseline="central" >0</text>
<line x1="403.0" y1="349.6" x2="406.0" y2="349.6" stroke="#262626" stroke-width="1"/>
<text x="397.7" y="349.0" font-size="7.5" text-anchor="end" font-weight="bold" fill="#ff0000" font-family='"Liberation Sans", sans-serif' dominant-baseline="central" stroke="#ff0000" stroke-width="0.3">(2)</text>
<line x1="403.0" y1="360.6" x2="406.0" y2="360.6" stroke="#262626" stroke-width="1"/>
<text x="397.7" y="360.0" font-size="7.5" text-anchor="end" font-weight="bold" fill="#ff0000" font-family='"Liberation Sans", sans-serif' dominant-baseline="central" stroke="#ff0000" stroke-width="0.3">(4)</text>
<line x1="403.0" y1="371.6" x2="406.0" y2="371.6" stroke="#262626" stroke-width="1"/>
<text x="397.7" y="371.0" font-size="7.5" text-anchor="end" font-weight="bold" fill="#ff0000" font-family='"Liberation Sans", sans-serif' dominant-baseline="central" stroke="#ff0000" stroke-width="0.3">(6)</text>
<line x1="403.0" y1="382.7" x2="406.0" y2="382.7" stroke="#262626" stroke-width="1"/>
<text x="397.7" y="382.1" font-size="7.5" text-anchor="end" font-weight="bold" fill="#ff0000" font-family='"Liberation Sans", sans-serif' dominant-baseline="central" stroke="#ff0000" stroke-width="0.3">(8)</text>
<line x1="403.0" y1="393.7" x2="406.0" y2="393.7" stroke="#262626" stroke-width="1"/>
<text x="397.7" y="393.1" font-size="7.5" text-anchor="end" font-weight="bold" fill="#ff0000" font-family='"Liberation Sans", sans-serif' dominant-baseline="central" stroke="#ff0000" stroke-width="0.3">(10)</text>
<line x1="403.0" y1="404.7" x2="406.0" y2="404.7" stroke="#262626" stroke-width="1"/>
<text x="397.7" y="404.1" font-size="7.5" text-anchor="end" font-weight="bold" fill="#ff0000" font-family='"Liberation Sans", sans-serif' dominant-baseline="central" stroke="#ff0000" stroke-width="0.3">(12)</text>
<line x1="403.0" y1="415.7" x2="406.0" y2="415.7" stroke="#262626" stroke-width="1"/>
<text x="397.7" y="415.1" font-size="7.5" text-anchor="end" font-weight="bold" fill="#ff0000" font-family='"Liberation Sans", sans-serif' dominant-baseline="central" stroke="#ff0000" stroke-width="0.3">(14)</text>
<line x1="403.0" y1="426.8" x2="406.0" y2="426.8" stroke="#262626" stroke-width="1"/>
<text x="397.7" y="426.2" font-size="7.5" text-anchor="end" font-weight="bold" fill="#ff0000" font-family='"Liberation Sans", sans-serif' dominant-baseline="central" stroke="#ff0000" stroke-width="0.3">(16)</text>
<line x1="403.0" y1="437.8" x2="406.0" y2="437.8" stroke="#262626" stroke-width="1"/>
<text x="397.7" y="437.2" font-size="7.5" text-anchor="end" font-weight="bold" fill="#ff0000" font-family='"Liberation Sans", sans-serif' dominant-baseline="central" stroke="#ff0000" stroke-width="0.3">(18)</text>
<line x1="320.9" y1="338.8" x2="320.9" y2="341.3" stroke="#262626" stroke-width="1"/>
<text x="320.9" y="350.3" font-size="8.5" text-anchor="middle" font-weight="bold" fill="#000" font-family='"Liberation Serif", serif' dominant-baseline="central" >0.01</text>
<line x1="363.4" y1="338.8" x2="363.4" y2="341.3" stroke="#262626" stroke-width="1"/>
<text x="363.4" y="350.3" font-size="8.5" text-anchor="middle" font-weight="bold" fill="#000" font-family='"Liberation Serif", serif' dominant-baseline="central" >0.1</text>
<line x1="405.9" y1="338.8" x2="405.9" y2="341.3" stroke="#262626" stroke-width="1"/>
<text x="406.5" y="350.3" font-size="8.5" text-anchor="middle" font-weight="bold" fill="#000" font-family='"Liberation Serif", serif' dominant-baseline="central" >1</text>
<line x1="448.5" y1="338.8" x2="448.5" y2="341.3" stroke="#262626" stroke-width="1"/>
<text x="448.5" y="350.3" font-size="8.5" text-anchor="middle" font-weight="bold" fill="#000" font-family='"Liberation Serif", serif' dominant-baseline="central" >10</text>
<line x1="491.0" y1="338.8" x2="491.0" y2="341.3" stroke="#262626" stroke-width="1"/>
<text x="491.0" y="350.3" font-size="8.5" text-anchor="middle" font-weight="bold" fill="#000" font-family='"Liberation Serif", serif' dominant-baseline="central" >100</text>
<line x1="533.5" y1="338.8" x2="533.5" y2="341.3" stroke="#262626" stroke-width="1"/>
<text x="533.5" y="350.3" font-size="8.5" text-anchor="middle" font-weight="bold" fill="#000" font-family='"Liberation Serif", serif' dominant-baseline="central" >1000</text>
<line x1="486.3" y1="328.6" x2="499.8" y2="328.6" stroke="#70ad47" stroke-width="1.8"/>
<text x="502.0" y="331.1" font-size="8.2" text-anchor="start" font-weight="600" fill="#111" font-family='"Liberation Sans", sans-serif' dominant-baseline="central" textLength="22.6" lengthAdjust="spacingAndGlyphs">600°C</text>
<text x="427.0" y="446.1" font-size="9.2" text-anchor="middle" font-weight="bold" fill="#000" font-family='"Liberation Sans", sans-serif' dominant-baseline="central" textLength="38.5" lengthAdjust="spacingAndGlyphs">Log-Time</text>
<text x="305.8" y="384.0" font-size="9.2" text-anchor="middle" font-weight="bold" fill="#000" font-family='"Liberation Sans", sans-serif' dominant-baseline="central" textLength="51" lengthAdjust="spacingAndGlyphs" transform="rotate(-90 305.8 384)">dwt%/dmin</text>
</svg></body></html>
